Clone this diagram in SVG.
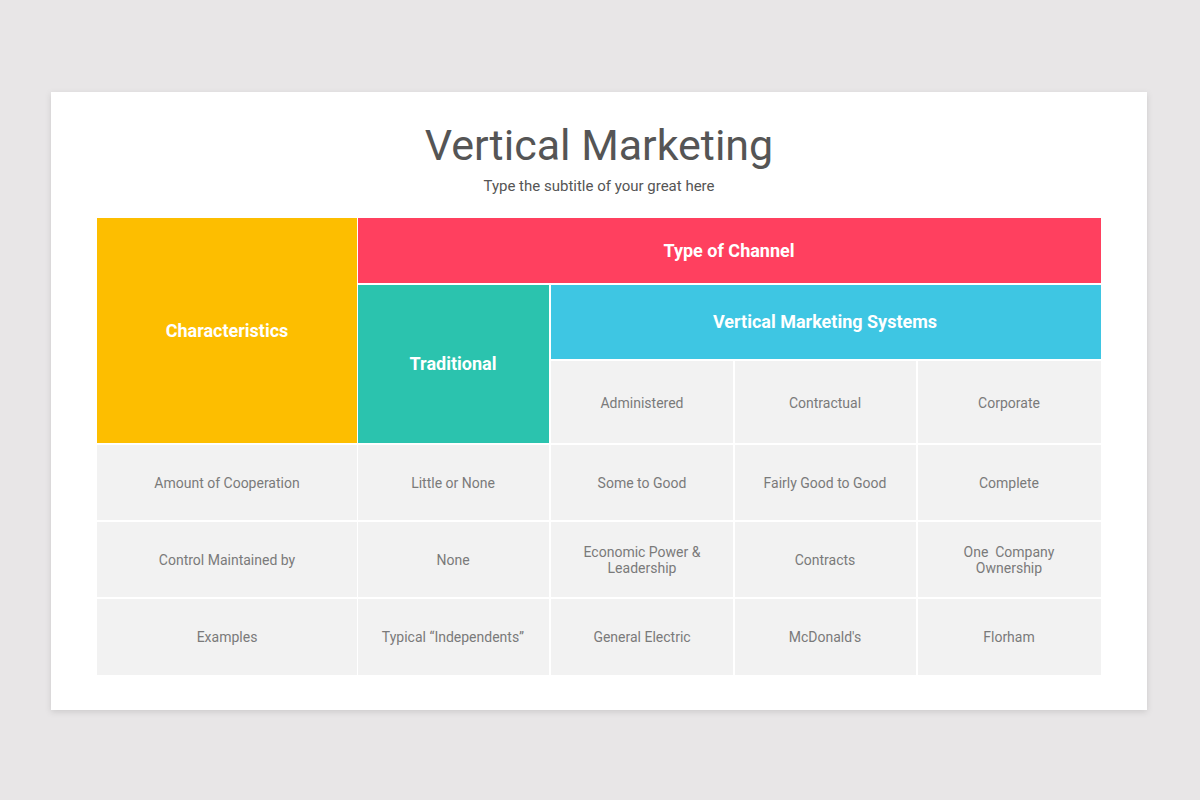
<svg xmlns="http://www.w3.org/2000/svg" width="1200" height="800" viewBox="0 0 1200 800">
<defs>
<style>
.h{font-family:Roboto,"Liberation Sans",sans-serif;font-weight:bold;font-size:18px;fill:#fff;text-anchor:middle}
.c{font-family:Roboto,"Liberation Sans",sans-serif;font-size:14px;fill:#7a7a7a;text-anchor:middle}
.cell{fill:#f2f2f2}
</style>
<filter id="sh" x="-5%" y="-5%" width="110%" height="115%"><feDropShadow dx="0" dy="2" stdDeviation="3" flood-color="#000" flood-opacity="0.12"/></filter>
</defs>
<rect width="1200" height="800" fill="#e8e6e7"/>
<rect x="51" y="92" width="1096" height="618" fill="#fff" filter="url(#sh)"/>
<text x="599" y="160" font-family="Roboto,'Liberation Sans',sans-serif" font-size="43" fill="#555" text-anchor="middle">Vertical Marketing</text>
<text x="599" y="191" font-family="Roboto,'Liberation Sans',sans-serif" font-size="15" fill="#555" text-anchor="middle">Type the subtitle of your great here</text>
<g id="characteristics"><rect x="97" y="218" width="260" height="225" fill="#fdbe00"/><text class="h" x="227" y="337">Characteristics</text></g>
<g id="type-of-channel"><rect x="358" y="218" width="743" height="65" fill="#ff405f"/><text class="h" x="729" y="257">Type of Channel</text></g>
<g id="traditional"><rect x="358" y="285" width="191" height="158" fill="#2bc3ae"/><text class="h" x="453" y="370">Traditional</text></g>
<g id="vms"><rect x="551" y="285" width="550" height="74" fill="#3ec6e3"/><text class="h" x="825" y="328">Vertical Marketing Systems</text></g>
<g id="cells">
<rect class="cell" x="551" y="361" width="182" height="82"/><text class="c" x="642" y="408">Administered</text>
<rect class="cell" x="735" y="361" width="181" height="82"/><text class="c" x="825" y="408">Contractual</text>
<rect class="cell" x="918" y="361" width="183" height="82"/><text class="c" x="1009" y="408">Corporate</text>

<rect class="cell" x="97" y="445" width="260" height="75"/><text class="c" x="227" y="488">Amount of Cooperation</text>
<rect class="cell" x="358" y="445" width="191" height="75"/><text class="c" x="453" y="488">Little or None</text>
<rect class="cell" x="551" y="445" width="182" height="75"/><text class="c" x="642" y="488">Some to Good</text>
<rect class="cell" x="735" y="445" width="181" height="75"/><text class="c" x="825" y="488">Fairly Good to Good</text>
<rect class="cell" x="918" y="445" width="183" height="75"/><text class="c" x="1009" y="488">Complete</text>

<rect class="cell" x="97" y="522" width="260" height="75"/><text class="c" x="227" y="565">Control Maintained by</text>
<rect class="cell" x="358" y="522" width="191" height="75"/><text class="c" x="453" y="565">None</text>
<rect class="cell" x="551" y="522" width="182" height="75"/><text class="c" x="642" y="557">Economic Power &amp;</text><text class="c" x="642" y="573">Leadership</text>
<rect class="cell" x="735" y="522" width="181" height="75"/><text class="c" x="825" y="565">Contracts</text>
<rect class="cell" x="918" y="522" width="183" height="75"/><text class="c" x="1009" y="557" xml:space="preserve">One  Company</text><text class="c" x="1009" y="573">Ownership</text>

<rect class="cell" x="97" y="599" width="260" height="76"/><text class="c" x="227" y="642">Examples</text>
<rect class="cell" x="358" y="599" width="191" height="76"/><text class="c" x="453" y="642">Typical “Independents”</text>
<rect class="cell" x="551" y="599" width="182" height="76"/><text class="c" x="642" y="642">General Electric</text>
<rect class="cell" x="735" y="599" width="181" height="76"/><text class="c" x="825" y="642">McDonald's</text>
<rect class="cell" x="918" y="599" width="183" height="76"/><text class="c" x="1009" y="642">Florham</text>
</g>
<g id="connectors"/>
</svg>
